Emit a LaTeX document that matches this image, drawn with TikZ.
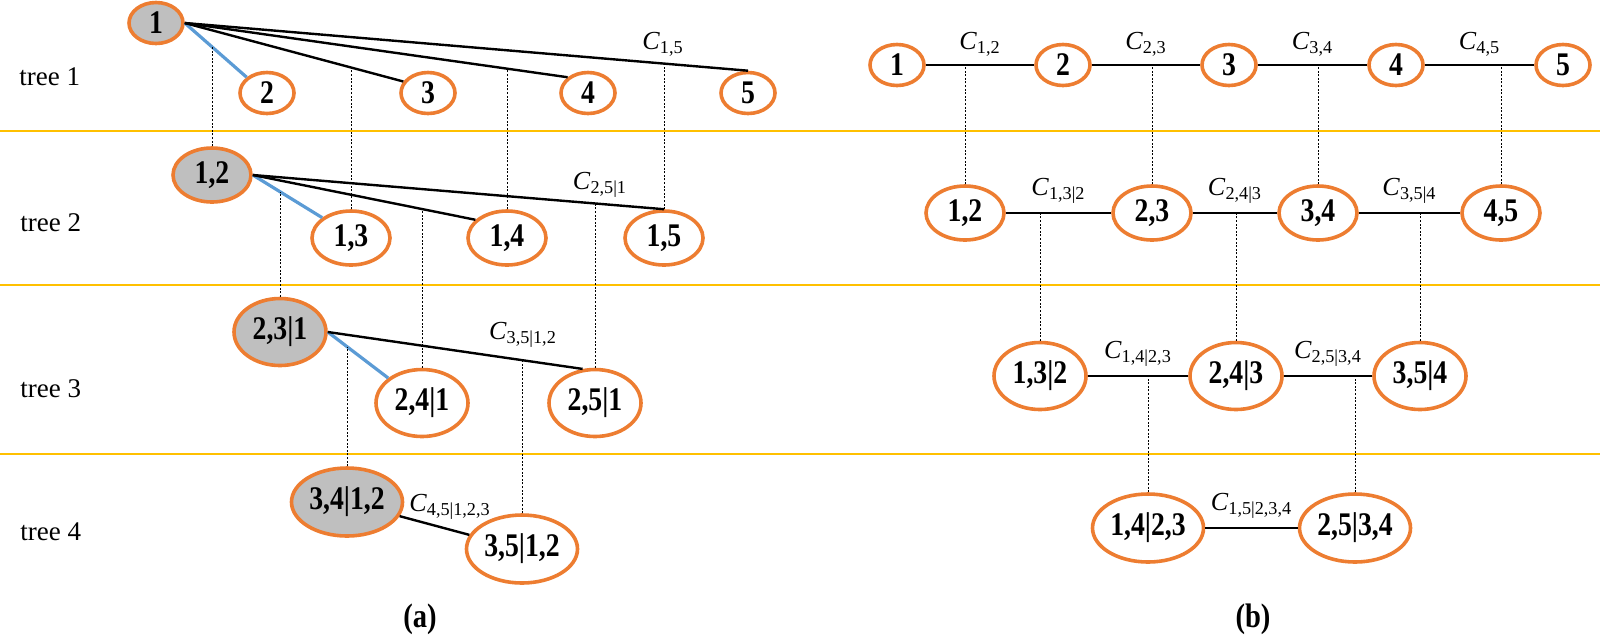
\documentclass[tikz,border=0pt]{standalone}
\usepackage{fontspec}
\setmainfont{Liberation Serif}
\newfontfamily\vinefont[FakeStretch=0.84]{Liberation Serif}
\usetikzlibrary{shapes,positioning,calc}

\definecolor{corange}{RGB}{237,125,49}
\definecolor{cblue}{RGB}{91,155,213}
\definecolor{cgray}{RGB}{191,191,191}
\definecolor{cyellow}{RGB}{255,192,0}

\tikzset{
  vnode/.style={ellipse, draw=corange, line width=1.8pt, fill=white, inner sep=0pt,
    font=\vinefont\fontsize{16.5}{19}\selectfont\bfseries},
  root/.style={vnode, fill=cgray},
  lvA/.style={minimum width=27pt, minimum height=20.5pt},
  lvB/.style={minimum width=39pt, minimum height=27pt},
  lvC/.style={minimum width=46pt, minimum height=33.5pt},
  lvD/.style={minimum width=55.5pt, minimum height=34pt},
  tie/.style={line width=1.2pt},
  tieb/.style={line width=1.6pt, draw=cblue},
  cond/.style={line width=0.5pt, dash pattern=on 1pt off 0.8pt},
  sep/.style={draw=cyellow, line width=0.8pt},
  clab/.style={font=\fontsize{13}{15}\selectfont, inner sep=1pt},
  tlab/.style={font=\fontsize{13.5}{16}\selectfont, anchor=west, inner sep=0pt},
  sublab/.style={font=\vinefont\fontsize{17}{20}\selectfont\bfseries}
}

\begin{document}
\begin{tikzpicture}[x=0.5pt,y=-0.5pt]
\useasboundingbox (0,0) rectangle (1600,634);

% separators between the trees
\draw[sep] (0,131) -- (1600,131);
\draw[sep] (0,285) -- (1600,285);
\draw[sep] (0,454) -- (1600,454);

% tree labels
\node[tlab] (t1) at (19,77) {tree 1};
\node[tlab] (t2) at (20,223) {tree 2};
\node[tlab] (t3) at (20,389) {tree 3};
\node[tlab] (t4) at (20,532) {tree 4};

% (a) C-vine
\node[root,lvA] (a1) at (156,23) {1};
\node[vnode,lvA] (a2) at (267,93) {2};
\node[vnode,lvA] (a3) at (428,93) {3};
\node[vnode,lvA] (a4) at (588,93) {4};
\node[vnode,lvA] (a5) at (748,93) {5};

\node[root,lvB] (a12) at (212,175) {1,2};
\node[vnode,lvB] (a13) at (351,238) {1,3};
\node[vnode,lvB] (a14) at (507,238) {1,4};
\node[vnode,lvB] (a15) at (664,238) {1,5};

\node[root,lvC] (a231) at (280,332) {2,3|1};
\node[vnode,lvC] (a241) at (422,403) {2,4|1};
\node[vnode,lvC] (a251) at (595,403) {2,5|1};

\node[root,lvD] (a3412) at (347,502) {3,4|1,2};
\node[vnode,lvD] (a3512) at (522,549) {3,5|1,2};

\draw[tieb] (a1.east) -- coordinate[pos=0.44] (e12) (a2.north west);
\draw[tie] (a1.east) -- coordinate[pos=0.76] (e13) (a3.155);
\draw[tie] (a1.east) -- coordinate[pos=0.84] (e14) (a4.north west);
\draw[tie] (a1.east) -- coordinate[pos=0.85] (e15) (a5.north);

\draw[tieb] (a12.east) -- coordinate[pos=0.39] (e231) (a13.north west);
\draw[tie] (a12.east) -- coordinate[pos=0.76] (e241) (a14.150);
\draw[tie] (a12.east) -- coordinate[pos=0.83] (e251) (a15.north);

\draw[tieb] (a231.east) -- coordinate[pos=0.32] (e3412) (a241.north west);
\draw[tie] (a231.east) -- coordinate[pos=0.76] (e3512) (a251.110);

\draw[tie] (a3412) -- (a3512);

\node[clab] (ca15) at (663,44) {\textit{C}\textsubscript{1,5}};
\node[clab] (ca251) at (600,185) {\textit{C}\textsubscript{2,5|1}};
\node[clab] (ca3512) at (523,335) {\textit{C}\textsubscript{3,5|1,2}};
\node[clab] (ca45123) at (450,507) {\textit{C}\textsubscript{4,5|1,2,3}};

% dotted links from an edge to the node it becomes
\draw[cond] (a12.north) -- (a12.north |- e12);
\draw[cond] (a13.north) -- (a13.north |- e13);
\draw[cond] (a14.north) -- (a14.north |- e14);
\draw[cond] (a15.north) -- (a15.north |- e15);
\draw[cond] (a231.north) -- (a231.north |- e231);
\draw[cond] (a241.north) -- (a241.north |- e241);
\draw[cond] (a251.north) -- (a251.north |- e251);
\draw[cond] (a3412.north) -- (a3412.north |- e3412);
\draw[cond] (a3512.north) -- (a3512.north |- e3512);

\node[sublab] (capa) at (420,619) {(a)};

% (b) D-vine
\node[vnode,lvA] (b1) at (897,65) {1};
\node[vnode,lvA] (b2) at (1063,65) {2};
\node[vnode,lvA] (b3) at (1229,65) {3};
\node[vnode,lvA] (b4) at (1396,65) {4};
\node[vnode,lvA] (b5) at (1563,65) {5};

\node[vnode,lvB] (b12) at (965,213) {1,2};
\node[vnode,lvB] (b23) at (1152,213) {2,3};
\node[vnode,lvB] (b34) at (1318,213) {3,4};
\node[vnode,lvB] (b45) at (1501,213) {4,5};

\node[vnode,lvC] (b132) at (1040,376) {1,3|2};
\node[vnode,lvC] (b243) at (1236,376) {2,4|3};
\node[vnode,lvC] (b354) at (1420,376) {3,5|4};

\node[vnode,lvD] (b1423) at (1148,528) {1,4|2,3};
\node[vnode,lvD] (b2534) at (1355,528) {2,5|3,4};

\draw[tie] (b1) -- node[clab,above=3pt] (cb12) {\textit{C}\textsubscript{1,2}} (b2);
\draw[tie] (b2) -- node[clab,above=3pt] (cb23) {\textit{C}\textsubscript{2,3}} (b3);
\draw[tie] (b3) -- node[clab,above=3pt] (cb34) {\textit{C}\textsubscript{3,4}} (b4);
\draw[tie] (b4) -- node[clab,above=3pt] (cb45) {\textit{C}\textsubscript{4,5}} (b5);

\draw[tie] (b12) -- node[clab,above=3pt] (cb132) {\textit{C}\textsubscript{1,3|2}} (b23);
\draw[tie] (b23) -- node[clab,above=3pt] (cb243) {\textit{C}\textsubscript{2,4|3}} (b34);
\draw[tie] (b34) -- node[clab,above=3pt] (cb354) {\textit{C}\textsubscript{3,5|4}} (b45);

\draw[tie] (b132) -- node[clab,above=3pt] (cb1423) {\textit{C}\textsubscript{1,4|2,3}} (b243);
\draw[tie] (b243) -- node[clab,above=3pt] (cb2534) {\textit{C}\textsubscript{2,5|3,4}} (b354);

\draw[tie] (b1423) -- node[clab,above=3pt] (cb15234) {\textit{C}\textsubscript{1,5|2,3,4}} (b2534);

\draw[cond] (b12.north) -- (b12.north |- b1);
\draw[cond] (b23.north) -- (b23.north |- b2);
\draw[cond] (b34.north) -- (b34.north |- b3);
\draw[cond] (b45.north) -- (b45.north |- b4);
\draw[cond] (b132.north) -- (b132.north |- b12);
\draw[cond] (b243.north) -- (b243.north |- b23);
\draw[cond] (b354.north) -- (b354.north |- b34);
\draw[cond] (b1423.north) -- (b1423.north |- b132);
\draw[cond] (b2534.north) -- (b2534.north |- b243);

\node[sublab] (capb) at (1253,619) {(b)};
\end{tikzpicture}
\end{document}
